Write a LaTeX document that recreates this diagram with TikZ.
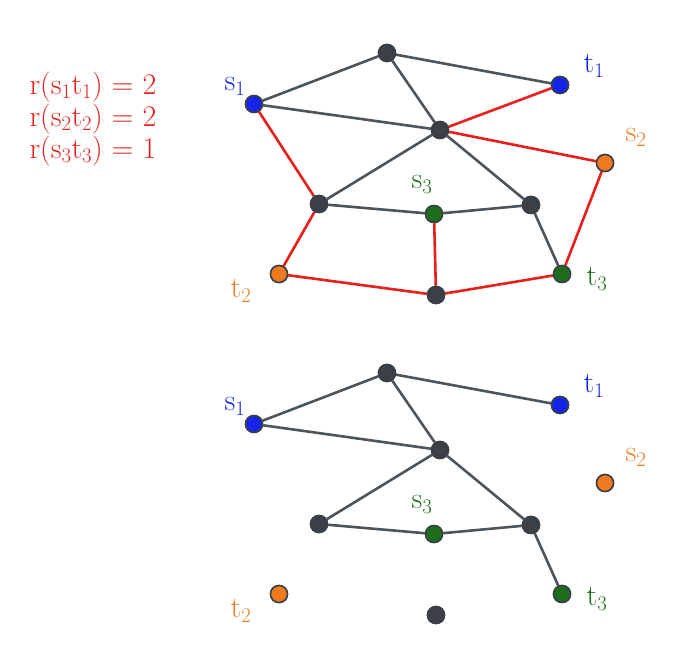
\documentclass[tikz,border=0pt]{standalone}
\usepackage{amsmath,tikz}
\definecolor{vgray}{HTML}{3A4046}
\definecolor{egray}{HTML}{4D555B}
\definecolor{vblue}{HTML}{1525E8}
\definecolor{vorange}{HTML}{F07A1E}
\definecolor{vgreen}{HTML}{1C6E1C}
\definecolor{lred}{HTML}{E8201C}
\tikzset{
  vert/.style={circle,draw=vgray,line width=1.5pt,fill=vgray,minimum size=17pt,inner sep=0pt},
  gedge/.style={draw=egray,line width=2.6pt},
  redge/.style={draw=lred,line width=2.6pt},
  lab/.style={font=\fontsize{30}{34}\selectfont}
}
\begin{document}
\begin{tikzpicture}[x=1pt,y=-1pt]
\useasboundingbox (0,0) rectangle (685,669);

\foreach \p/\dy in {A/0,B/320}
{
\begin{scope}[yshift=-\dy pt]
\node[vert] (\p a) at (387,53) {};
\node[vert,fill=vblue] (\p t1) at (560,85) {};
\node[vert,fill=vblue] (\p s1) at (254,104) {};
\node[vert] (\p c) at (440,130) {};
\node[vert,fill=vorange] (\p s2) at (605,163) {};
\node[vert] (\p l) at (319,204) {};
\node[vert,fill=vgreen] (\p s3) at (434,214) {};
\node[vert] (\p r) at (531,205) {};
\node[vert,fill=vorange] (\p t2) at (279,274) {};
\node[vert,fill=vgreen] (\p t3) at (562,274) {};
\node[vert] (\p b) at (436,295) {};

\node[lab,text=vblue] (\p Ls1) at (235,86) {s$_1$};
\node[lab,text=vblue] (\p Lt1) at (594,66) {t$_1$};
\node[lab,text=vorange] (\p Ls2) at (636,137) {s$_2$};
\node[lab,text=vgreen] (\p Ls3) at (422,184) {s$_3$};
\node[lab,text=vorange] (\p Lt2) at (241,291) {t$_2$};
\node[lab,text=vgreen] (\p Lt3) at (597,279) {t$_3$};
\end{scope}
}

% gray edges, both copies
\foreach \p in {A,B}
{
\foreach \u/\v in {s1/a,a/t1,a/c,s1/c,c/l,c/r,l/s3,s3/r,r/t3}
  \draw[gedge] (\p\u) -- (\p\v);
}

% red edges, top copy
\foreach \u/\v in {s1/l,l/t2,t2/b,b/s3,b/t3,t3/s2,s2/c,c/t1}
  \draw[redge] (A\u) -- (A\v);

% redraw vertices over edges
\foreach \p/\dy in {A/0,B/320}
{
\begin{scope}[yshift=-\dy pt]
\foreach \n/\x/\y/\f in {a/387/53/vgray,t1/560/85/vblue,s1/254/104/vblue,c/440/130/vgray,s2/605/163/vorange,l/319/204/vgray,s3/434/214/vgreen,r/531/205/vgray,t2/279/274/vorange,t3/562/274/vgreen,b/436/295/vgray}
  \node[vert,fill=\f] at (\x,\y) {};
\end{scope}
}

\node[lab,text=lred,align=left,anchor=north west] (rtext) at (26,68)
  {r(s$_1$t$_1$) = 2\\[-2pt] r(s$_2$t$_2$) = 2\\[-2pt] r(s$_3$t$_3$) = 1};
\end{tikzpicture}
\end{document}
